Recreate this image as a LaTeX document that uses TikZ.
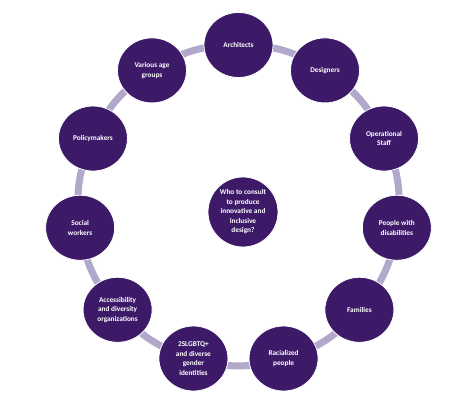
\documentclass[tikz,border=0pt]{standalone}
\usepackage{fontspec}
\newfontfamily\labelfont{Carlito}
\usepackage{tikz}
\usetikzlibrary{positioning, shapes.geometric, backgrounds}
\definecolor{deeppurple}{HTML}{3C1A68}
\definecolor{lavender}{HTML}{B2A8CC}

\begin{document}
\begin{tikzpicture}[
    x=1pt, y=1pt,
    member/.style={ellipse, fill=deeppurple, draw=white, line width=0.8pt,
                   minimum width=69pt, minimum height=65pt, inner sep=0pt,
                   align=center, text=white,
                   font=\labelfont\bfseries\fontsize{7.3}{9.5}\selectfont},
    hub/.style={member, minimum width=70pt, minimum height=70pt},
    ring/.style={lavender, line width=7pt},
    every to/.style={bend left=16.36}
]
    \useasboundingbox (-238.5,-199) rectangle (235.5,205);

    % Question in the middle
    \node[hub] (q) at (4.5,-7) {Who to consult\\to produce\\innovative and\\inclusive\\design?};

    % People around the ring
    \node[member] (arch) at (90:160) {Architects};
    \node[member] (des)  at (57.27:160) {Designers};
    \node[member] (ops)  at (24.55:160) {Operational\\Staff};
    \node[member] (dis)  at (-8.18:160) {People with\\disabilities};
    \node[member] (fam)  at (-40.91:160) {Families};
    \node[member] (rac)  at (-73.64:160) {Racialized\\people};
    \node[member] (lgb)  at (-106.36:160) {2SLGBTQ+\\and diverse\\gender\\identities};
    \node[member] (acc)  at (-139.09:160) {Accessibility\\and diversity\\organizations};
    \node[member] (soc)  at (-171.82:160) {Social\\workers};
    \node[member] (pol)  at (155.45:160) {Policymakers};
    \node[member] (age)  at (122.73:160) {Various age\\groups};

    % Ring links, behind the circles
    \begin{pgfonlayer}{background}
    \draw[ring] (arch.center) to (des.center);
    \draw[ring] (des.center) to (ops.center);
    \draw[ring] (ops.center) to (dis.center);
    \draw[ring] (dis.center) to (fam.center);
    \draw[ring] (fam.center) to (rac.center);
    \draw[ring] (rac.center) to (lgb.center);
    \draw[ring] (lgb.center) to (acc.center);
    \draw[ring] (acc.center) to (soc.center);
    \draw[ring] (soc.center) to (pol.center);
    \draw[ring] (pol.center) to (age.center);
    \draw[ring] (age.center) to (arch.center);
    \end{pgfonlayer}
\end{tikzpicture}
\end{document}
